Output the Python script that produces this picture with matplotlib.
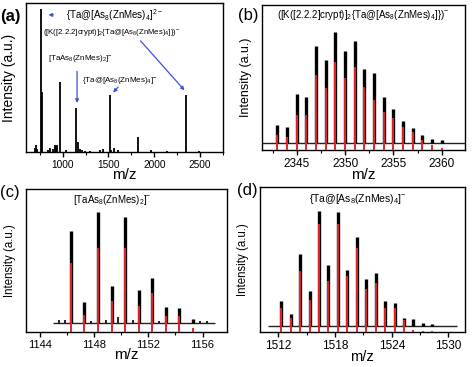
import numpy as np
import matplotlib
matplotlib.use('Agg')
import matplotlib.pyplot as plt
from matplotlib import rcParams
from matplotlib.ticker import MultipleLocator

rcParams['font.family'] = ['Liberation Sans', 'DejaVu Sans']
rcParams['mathtext.default'] = 'regular'
rcParams['axes.linewidth'] = 1.0
rcParams['xtick.direction'] = 'out'

# panel (a): full spectrum, m/z and relative intensity (0-1)
a_mz = [700, 712, 722, 762, 775, 840, 862, 893, 912, 925, 938, 975, 1040,
        1146, 1169, 1185, 1210, 1240, 1300, 1410, 1440, 1518, 1530, 1558,
        1600, 1818, 1960, 2135, 2347, 2490]
a_int = [0.03, 0.045, 0.02, 0.96, 0.40, 0.015, 0.025, 0.02, 0.045, 0.04,
         0.045, 0.468, 0.012, 0.293, 0.068, 0.02, 0.012, 0.01, 0.008, 0.015,
         0.02, 0.383, 0.015, 0.03, 0.012, 0.10, 0.012, 0.008, 0.383, 0.006]

# panel (b): experimental vs simulated isotope pattern (%)
b_mz = np.arange(2343, 2361)
b_exp = [16.4, 14.3, 43.9, 41.8, 87.2, 74.6, 100, 82.7, 91.9, 66.6, 62.7,
         41.8, 30.7, 20.3, 13.4, 7.5, 3.9, 3.0]
b_sim = [17.0, 15.0, 39.6, 39.6, 84.9, 69.8, 100, 81.1, 94.3, 70.9, 56.6,
         43.4, 35.8, 26.4, 20.8, 11.3, 5.7, 1.9]

# panel (c)
c_mz = [1146.3, 1147.3, 1148.3, 1149.3, 1150.3, 1151.3, 1152.3, 1153.3,
        1154.3, 1155.3]
c_exp = [83.3, 18.8, 100, 33.3, 95.5, 29.7, 40.9, 14.2, 13.6, 3.6]
c_sim = [82.1, 20.6, 100, 36.5, 100, 30.6, 46.4, 18.7, 18.7, 4.8]
c_noise_mz = [1145.4, 1145.9, 1147.8, 1148.9, 1149.8, 1150.9, 1152.8,
              1155.8, 1156.3]
c_noise = [2.5, 2.5, 2.0, 3.0, 5.0, 2.5, 2.0, 1.5, 1.5]

# panel (d)
d_mz = np.arange(1512.3, 1528.4, 1.0)
d_exp = [21.3, 10.2, 62.7, 30.0, 100, 52.5, 99.1, 48.4, 77.3, 40.8, 46.1,
         21.3, 19.8, 6.7, 5.8, 2.3, 1.7]
d_sim = [22.4, 13.0, 56.5, 30.1, 100, 47.8, 100, 51.9, 78.3, 40.1, 45.7,
         22.4, 22.4, 11.5, 2.2, 0.9, 0.6]

RED = '#e8202a'
BLUE = '#3b55d9'

fig = plt.figure(figsize=(4.74, 3.67), dpi=100)


def style_axes(ax, xlim, major, minor, fs_tick, fs_lab, fs_y):
    ax.set_xlim(*xlim)
    ax.set_ylim(0, 1)
    ax.set_yticks([])
    ax.xaxis.set_major_locator(MultipleLocator(major))
    ax.xaxis.set_minor_locator(MultipleLocator(minor))
    ax.tick_params(axis='x', which='major', length=3.5, width=1.0,
                   labelsize=fs_tick, pad=2)
    ax.tick_params(axis='x', which='minor', length=2, width=0.8)
    ax.set_xlabel('m/z', fontsize=fs_lab, labelpad=-1)
    ax.set_ylabel('Intensity (a.u.)', fontsize=fs_y)
    ax.yaxis.set_label_coords(-0.05, 0.5)


def isotope(ax, mz, exp, sim, base, exp_scale, sim_scale, xspan):
    ax.hlines(base, xspan[0], xspan[1], color='#222222', lw=1.0, zorder=1)
    ax.vlines(mz, base, base + np.array(exp) / 100 * exp_scale,
              color='black', lw=2.4, zorder=2)
    ax.vlines(mz, 0, np.array(sim) / 100 * sim_scale, color=RED, lw=1.4,
              zorder=3)


def arrow(ax, start, end):
    ax.annotate('', xy=end, xytext=start,
                arrowprops=dict(arrowstyle='-|>', color=BLUE, lw=0.9,
                                mutation_scale=5))


# (a)
ax = fig.add_axes([26 / 474, 1 - 152 / 367, 197 / 474, 149 / 367])
ax.vlines(a_mz, 0, a_int, color='black', lw=1.3)
style_axes(ax, (600, 2750), 500, 250, 7.3, 11, 10)
ax.set_xticks([1000, 1500, 2000, 2500])
ax.text(-0.13, 0.91, '(a)', transform=ax.transAxes, fontsize=12,
        fontweight='bold', va='center', ha='left')
arrow(ax, (925, 0.92), (815, 0.92))
ax.text(1040, 0.92, '{Ta@[As$_8$(ZnMes)$_4$]$^{2-}$', fontsize=7,
        va='center', ha='left')
ax.text(785, 0.80, '([K([2.2.2]crypt)]$_2${Ta@[As$_8$(ZnMes)$_4$]})$^{-}$',
        fontsize=5.6, va='center', ha='left')
arrow(ax, (1830, 0.76), (2350, 0.40))
ax.text(840, 0.63, '[TaAs$_8$(ZnMes)$_2$]$^{-}$', fontsize=5.8,
        va='center', ha='left')
arrow(ax, (1157, 0.56), (1157, 0.31))
ax.text(1211, 0.483, '{Ta@[As$_8$(ZnMes)$_4$]$^{-}$', fontsize=5.8,
        va='center', ha='left')
arrow(ax, (1626, 0.45), (1530, 0.385))

# (b)
ax = fig.add_axes([262 / 474, 1 - 150 / 367, 203 / 474, 145 / 367])
isotope(ax, b_mz, b_exp, b_sim, 0.046, 0.77, 0.609, (2341.4, 2362.4))
style_axes(ax, (2341.4, 2362.4), 5, 2.5, 8.5, 11, 9)
ax.text(-0.12, 0.93, '(b)', transform=ax.transAxes, fontsize=12,
        va='center', ha='left')
ax.text(0.5, 0.93, '([K([2.2.2]crypt)]$_2${Ta@[As$_8$(ZnMes)$_4$]})$^{-}$',
        transform=ax.transAxes, fontsize=7, va='center', ha='center')

# (c)
ax = fig.add_axes([26 / 474, 1 - 332 / 367, 201 / 474, 143 / 367])
ax.vlines(c_noise_mz, 0.063, 0.063 + np.array(c_noise) / 100 * 0.773,
          color='black', lw=1.2)
isotope(ax, c_mz, c_exp, c_sim, 0.063, 0.773, 0.59, (1145.0, 1156.9))
style_axes(ax, (1143.0, 1157.8), 4, 2, 8, 11, 8.3)
ax.text(-0.13, 0.975, '(c)', transform=ax.transAxes, fontsize=12,
        va='center', ha='left')
ax.text(0.43, 0.92, '[TaAs$_8$(ZnMes)$_2$]$^{-}$', transform=ax.transAxes,
        fontsize=7, va='center', ha='center')

# (d)
ax = fig.add_axes([259.5 / 474, 1 - 332 / 367, 205 / 474, 145 / 367])
isotope(ax, d_mz, d_exp, d_sim, 0.044, 0.79, 0.742, (1510.9, 1530.9))
style_axes(ax, (1510.0, 1531.7), 6, 3, 8.5, 10.5, 8.3)
ax.text(-0.11, 0.975, '(d)', transform=ax.transAxes, fontsize=12,
        va='center', ha='left')
ax.text(0.48, 0.92, '{Ta@[As$_8$(ZnMes)$_4$]$^{-}$', transform=ax.transAxes,
        fontsize=7.5, va='center', ha='center')

fig.savefig('out.png', dpi=100)
